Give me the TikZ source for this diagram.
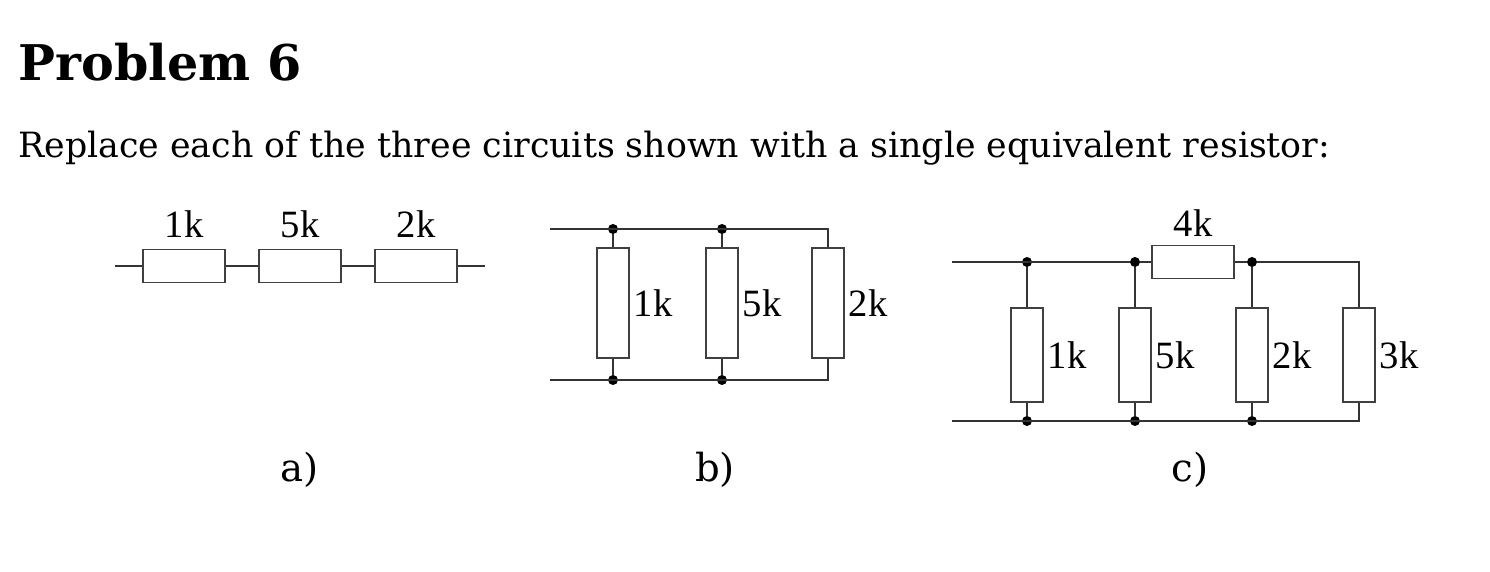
\documentclass[tikz,border=0pt]{standalone}
\usepackage{fontspec}
\setmainfont{DejaVu Serif}
\newfontfamily\circfont{Liberation Serif}
\usetikzlibrary{positioning}
\tikzset{
  res/.style={draw=black!75, rectangle, line width=0.6pt, fill=white, inner sep=0pt},
  hres/.style={res, minimum width=1.64cm, minimum height=0.66cm},
  vres/.style={res, minimum width=0.64cm, minimum height=2.2cm},
  wire/.style={line width=0.6pt, black!80},
  dot/.style={circle, fill=black, inner sep=0pt, minimum size=0.2cm},
  val/.style={font=\circfont\fontsize{22}{24}\selectfont, inner sep=0pt},
  sub/.style={font=\fontsize{22}{26}\selectfont, inner sep=0pt}
}
\begin{document}
\begin{tikzpicture}[x=0.02cm, y=-0.02cm]
  \useasboundingbox (0,0) rectangle (1490,571);
  % Heading
  \node[anchor=west, font=\bfseries\fontsize{28}{32}\selectfont, inner sep=0pt] (title) at (18,62) {Problem 6};
  \node[anchor=west, font=\fontsize{19.8}{24}\selectfont, inner sep=0pt] (task) at (18,148) {Replace each of the three circuits shown with a single equivalent resistor:};

  % a) series
  \coordinate (ain) at (115,266);
  \coordinate (aout) at (485,266);
  \node[hres] (ra1) at (184,266) {};
  \node[hres] (ra2) at (300,266) {};
  \node[hres] (ra3) at (416,266) {};
  \draw[wire] (ain) -- (ra1) -- (ra2) -- (ra3) -- (aout);
  \foreach \r/\v in {ra1/1k, ra2/5k, ra3/2k}
    \node[val, above=0.22cm of \r] {\v};
  \node[sub] (la) at (300,470) {a)};

  % b) parallel
  \coordinate (btl) at (550,229);
  \coordinate (btr) at (828,229);
  \coordinate (bbl) at (550,380);
  \coordinate (bbr) at (828,380);
  \node[dot] (bt1) at (613,229) {};
  \node[dot] (bt2) at (722,229) {};
  \node[dot] (bb1) at (613,380) {};
  \node[dot] (bb2) at (722,380) {};
  \node[vres] (rb1) at (613,303) {};
  \node[vres] (rb2) at (722,303) {};
  \node[vres] (rb3) at (828,303) {};
  \draw[wire] (btl) -- (btr) -- (rb3) -- (bbr) -- (bbl);
  \draw[wire] (bt1) -- (rb1) -- (bb1);
  \draw[wire] (bt2) -- (rb2) -- (bb2);
  \foreach \r/\v in {rb1/1k, rb2/5k, rb3/2k}
    \node[val, right=0.08cm of \r] {\v};
  \node[sub] (lb) at (715,470) {b)};

  % c) ladder
  \coordinate (ctl) at (952,262);
  \coordinate (ctr) at (1359,262);
  \coordinate (cbl) at (952,421);
  \coordinate (cbr) at (1359,421);
  \node[dot] (ct1) at (1027,262) {};
  \node[dot] (ct2) at (1135,262) {};
  \node[dot] (ct3) at (1252,262) {};
  \node[dot] (cb1) at (1027,421) {};
  \node[dot] (cb2) at (1135,421) {};
  \node[dot] (cb3) at (1252,421) {};
  \node[hres] (rc0) at (1193,262) {};
  \node[vres, minimum height=1.88cm] (rc1) at (1027,355) {};
  \node[vres, minimum height=1.88cm] (rc2) at (1135,355) {};
  \node[vres, minimum height=1.88cm] (rc3) at (1252,355) {};
  \node[vres, minimum height=1.88cm] (rc4) at (1359,355) {};
  \draw[wire] (ctl) -- (ct2) -- (rc0) -- (ct3) -- (ctr) -- (rc4) -- (cbr) -- (cbl);
  \foreach \i in {1,2,3}
    \draw[wire] (ct\i) -- (rc\i) -- (cb\i);
  \node[val, above=0.16cm of rc0] {4k};
  \foreach \r/\v in {rc1/1k, rc2/5k, rc3/2k, rc4/3k}
    \node[val, right=0.08cm of \r] {\v};
  \node[sub] (lc) at (1190,470) {c)};
\end{tikzpicture}
\end{document}
